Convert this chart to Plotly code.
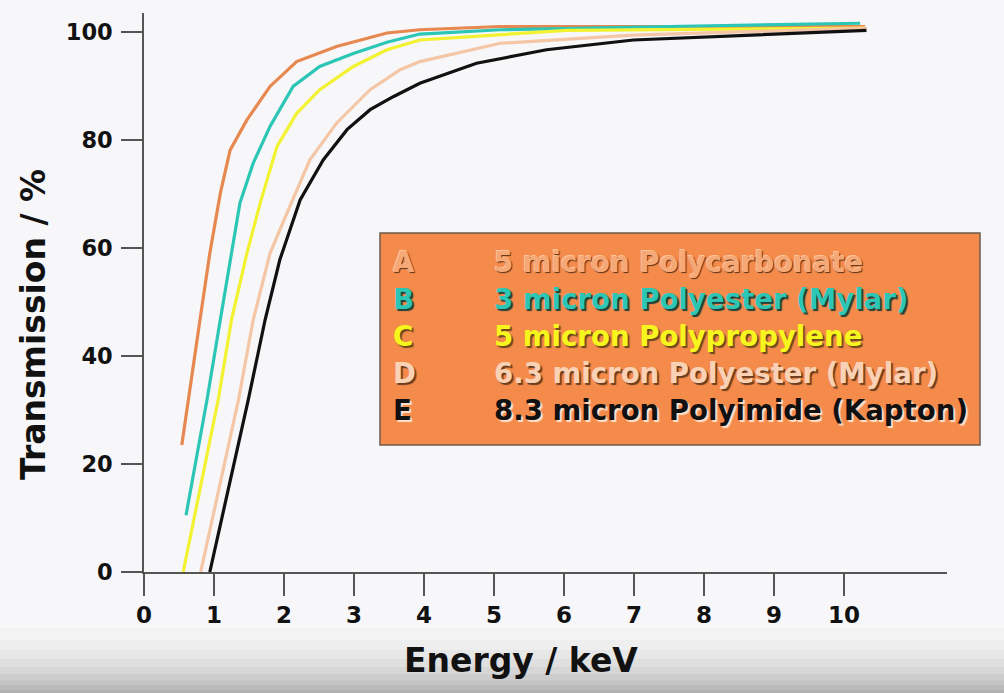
import plotly.graph_objects as go

# ---- data ----
energy_A = [0.54, 0.63, 0.80, 0.94, 1.09, 1.23, 1.47, 1.80, 2.18, 2.75, 3.47, 3.94, 5.09, 7.0, 10.3]
trans_A  = [23.5, 31.9, 46.7, 59.0, 70.1, 78.1, 83.7, 89.9, 94.5, 97.3, 99.8, 100.4, 101.0, 101.0, 101.0]

energy_B = [0.60, 0.90, 1.09, 1.23, 1.37, 1.56, 1.80, 2.13, 2.51, 2.99, 3.47, 3.94, 5.09, 7.5, 10.23]
trans_B  = [10.5, 31.9, 46.7, 57.8, 68.3, 75.7, 82.5, 89.9, 93.6, 96.0, 98.1, 99.6, 100.4, 101.0, 101.6]

energy_C = [0.56, 1.06, 1.25, 1.47, 1.66, 1.90, 2.18, 2.51, 2.99, 3.47, 3.94, 4.60, 6.04, 10.3]
trans_C  = [0.0, 31.9, 46.7, 59.0, 68.3, 78.8, 84.9, 89.3, 93.6, 96.7, 98.5, 99.1, 100.3, 100.7]

energy_D = [0.81, 1.35, 1.56, 1.80, 2.04, 2.37, 2.75, 3.23, 3.66, 3.94, 5.09, 6.99, 10.32]
trans_D  = [0.0, 31.9, 46.7, 59.0, 66.4, 76.3, 83.1, 89.3, 93.0, 94.5, 97.9, 99.4, 100.7]

energy_E = [0.94, 1.49, 1.73, 1.94, 2.23, 2.56, 2.90, 3.23, 3.56, 3.94, 4.75, 5.75, 6.99, 10.32]
trans_E  = [0.0, 31.9, 46.7, 57.8, 68.9, 76.3, 81.9, 85.6, 88.0, 90.5, 94.2, 96.7, 98.5, 100.3]

series_letters = ["A", "B", "C", "D", "E"]
series_names = [
    "5 micron Polycarbonate",
    "3 micron Polyester (Mylar)",
    "5 micron Polypropylene",
    "6.3 micron Polyester (Mylar)",
    "8.3 micron Polyimide (Kapton)",
]
x_ticks = [0, 1, 2, 3, 4, 5, 6, 7, 8, 9, 10]
y_ticks = [0, 20, 40, 60, 80, 100]

# ---- styling ----
line_colors = ["#e6884f", "#2cc6b6", "#f2f230", "#f4c6a6", "#111111"]
text_colors = ["#f6a877", "#2cc6b6", "#f6f61e", "#f9d2b6", "#111111"]
text_shadows = [
    "1px 1px 1px #5a3418, -1px -1px 0px #ffc49a",
    "2px 2px 1px #20403a",
    "2px 2px 1px #6a4a1a",
    "2px 2px 1px #6a3e1e",
    "2px 2px 1px #ffe2cc",
]
bg = "#f7f6f8"
axis_col = "#555555"
FONT = "DejaVu Sans"

W, H = 1004, 693
L, R, T, B = 144, 57, 13, 121
pw, ph = W - L - R, H - T - B


def px_to_paper_x(px):
    return (px - L) / pw


def py_to_paper_y(py):
    return (H - B - py) / ph


fig = go.Figure()
all_x = [energy_A, energy_B, energy_C, energy_D, energy_E]
all_y = [trans_A, trans_B, trans_C, trans_D, trans_E]
for i in range(5):
    fig.add_trace(go.Scatter(
        x=all_x[i], y=all_y[i], mode="lines",
        line=dict(color=line_colors[i], width=3.2),
        name=series_letters[i], showlegend=False, hoverinfo="skip",
    ))

shapes = []
# bottom gradient of the photographed background
grads = [(628, 640, "#f3f3f4"), (640, 650, "#eeeeee"), (650, 659, "#e7e7e7"),
         (659, 667, "#dfdfdf"), (667, 674, "#d6d6d6"), (674, 680, "#cdcdcd"),
         (680, 685, "#c4c4c4"), (685, 690, "#bababa"), (690, 694, "#b0b0b0")]
for a, b, c in grads:
    shapes.append(dict(type="rect", xref="paper", yref="paper",
                       x0=px_to_paper_x(-2), x1=px_to_paper_x(W + 2),
                       y0=py_to_paper_y(b), y1=py_to_paper_y(a),
                       fillcolor=c, line=dict(width=0), layer="below"))
# legend box
shapes.append(dict(type="rect", xref="paper", yref="paper",
                   x0=px_to_paper_x(380), x1=px_to_paper_x(980),
                   y0=py_to_paper_y(445), y1=py_to_paper_y(233),
                   fillcolor="#f58b4b", line=dict(color="#6e5a4e", width=1.5),
                   layer="above"))

annotations = []
row_py = [262, 299, 336, 373, 410]
for i in range(5):
    for txt, px in ((series_letters[i], 391), (series_names[i], 492)):
        annotations.append(dict(
            text=txt, xref="paper", yref="paper",
            x=px_to_paper_x(px), y=py_to_paper_y(row_py[i]),
            xanchor="left", yanchor="middle", showarrow=False,
            font=dict(family=FONT, size=27.6, weight="bold", color=text_colors[i],
                      shadow=text_shadows[i]),
        ))
# axis titles
annotations.append(dict(
    text="Energy / keV", xref="paper", yref="paper",
    x=px_to_paper_x(521), y=py_to_paper_y(660), xanchor="center", yanchor="middle",
    showarrow=False, font=dict(family=FONT, size=33, weight="bold", color="#111111")))
annotations.append(dict(
    text="Transmission / %", xref="paper", yref="paper", textangle=-90,
    x=px_to_paper_x(33), y=py_to_paper_y(325), xanchor="center", yanchor="middle",
    showarrow=False, font=dict(family=FONT, size=33, weight="bold", color="#111111")))

fig.update_layout(
    width=W, height=H,
    margin=dict(l=L, r=R, t=T, b=B),
    paper_bgcolor=bg, plot_bgcolor=bg,
    shapes=shapes, annotations=annotations,
    showlegend=False,
    xaxis=dict(range=[0, 11.47], tickvals=x_ticks, ticktext=[str(v) for v in x_ticks],
               showgrid=False, zeroline=False, showline=True, linecolor=axis_col,
               linewidth=1.5, ticks="outside", ticklen=22, tickwidth=1.5,
               tickcolor=axis_col, ticklabelstandoff=0,
               tickfont=dict(family=FONT, size=23, weight="bold", color="#111111")),
    yaxis=dict(range=[0, 103.5], tickvals=y_ticks, ticktext=[str(v) for v in y_ticks],
               showgrid=False, zeroline=False, showline=True, linecolor=axis_col,
               linewidth=1.5, ticks="outside", ticklen=21, tickwidth=1.5,
               tickcolor=axis_col, ticklabelstandoff=4,
               tickfont=dict(family=FONT, size=22.5, weight="bold", color="#111111")),
)

fig.write_html(
    "out.html",
    config={"displayModeBar": False},
    post_script="document.body.style.margin='0';document.body.style.overflow='hidden';"
                "document.body.style.background='" + bg + "';",
)
